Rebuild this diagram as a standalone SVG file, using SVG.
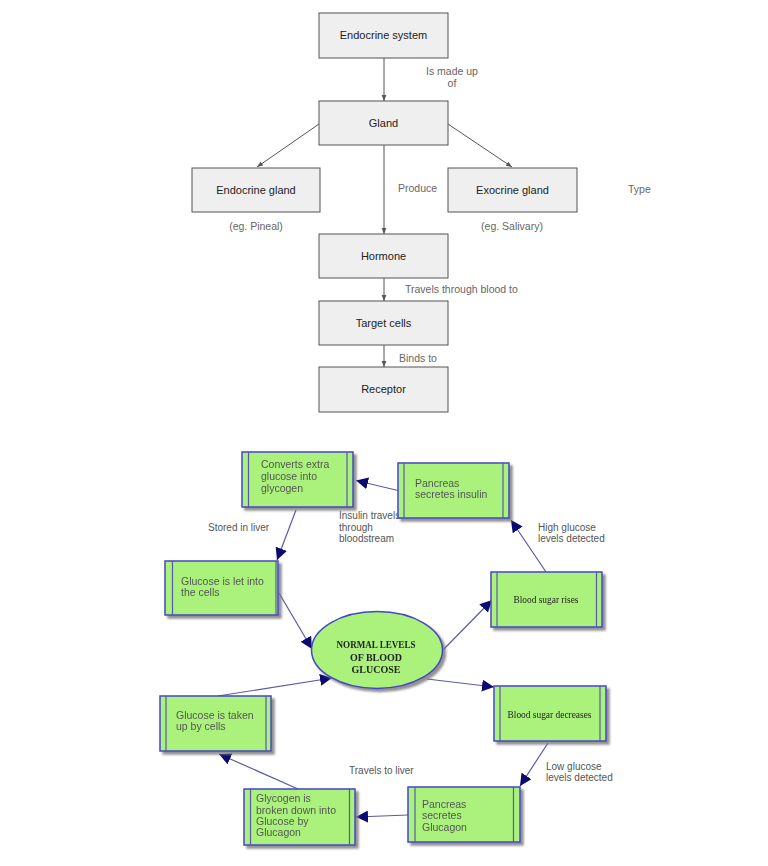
<svg xmlns="http://www.w3.org/2000/svg" width="768" height="866" viewBox="0 0 768 866">
<defs>
<marker id="ag" viewBox="0 0 10 10" refX="10" refY="5" markerWidth="6" markerHeight="6" markerUnits="userSpaceOnUse" orient="auto"><path d="M0,1 L10,5 L0,9 Z" fill="#555"/></marker>
<marker id="an" viewBox="0 0 10 10" refX="10" refY="5" markerWidth="12" markerHeight="12" markerUnits="userSpaceOnUse" orient="auto"><path d="M0,0 L10,5 L0,10 Z" fill="#0a0a70"/></marker>
<filter id="sh" x="-10%" y="-10%" width="130%" height="140%"><feOffset in="SourceAlpha" dx="3" dy="3" result="o"/><feGaussianBlur in="o" stdDeviation="1" result="b"/><feFlood flood-color="#777" flood-opacity="0.8"/><feComposite in2="b" operator="in" result="s"/><feMerge><feMergeNode in="s"/><feMergeNode in="SourceGraphic"/></feMerge></filter>
</defs>
<style>
.tb{fill:#efefef;stroke:#555;stroke-width:1}
.tt{font-family:"Liberation Sans",Arial,sans-serif;font-size:11px;fill:#222;text-anchor:middle}
.tl{font-family:"Liberation Sans",Arial,sans-serif;font-size:10.5px;fill:#666}
.gc{stroke:#555;stroke-width:1;fill:none;marker-end:url(#ag)}
.gb{fill:#aaf27c;stroke:#4545c8;stroke-width:1.5}
.gi{stroke:#5858b0;stroke-width:1.2}
.gt{font-family:"Liberation Sans",Arial,sans-serif;font-size:10.5px;fill:#555}
.st{font-family:"Liberation Serif","Times New Roman",serif;font-size:11px;fill:#222;text-anchor:middle}
.bc{stroke:#5a5aa6;stroke-width:1.2;fill:none;marker-end:url(#an)}
.bl{font-family:"Liberation Sans",Arial,sans-serif;font-size:10px;fill:#555}
</style>
<rect width="768" height="866" fill="#fff"/>

<g id="connectors">
<line class="gc" x1="384" y1="58" x2="384" y2="101"/>
<line class="gc" x1="319" y1="124" x2="257" y2="167"/>
<line class="gc" x1="448" y1="124" x2="512" y2="167"/>
<line class="gc" x1="384" y1="145" x2="384" y2="234"/>
<line class="gc" x1="384" y1="278" x2="384" y2="301"/>
<line class="gc" x1="384" y1="345" x2="384" y2="367"/>

<line class="bc" x1="398" y1="490.5" x2="356" y2="480.5"/>
<line class="bc" x1="296" y1="510" x2="277" y2="560"/>
<line class="bc" x1="546" y1="572" x2="511" y2="520"/>
<line class="bc" x1="443" y1="650" x2="492" y2="600"/>
<line class="bc" x1="279" y1="593" x2="312" y2="649"/>
<line class="bc" x1="218" y1="696" x2="332" y2="678"/>
<line class="bc" x1="427" y1="679" x2="494" y2="687"/>
<line class="bc" x1="548" y1="743" x2="520" y2="786"/>
<line class="bc" x1="408" y1="815" x2="356" y2="817"/>
<line class="bc" x1="298" y1="789" x2="219" y2="754"/>
</g>

<g id="labels">
<text class="tl" x="452" y="75" text-anchor="middle">Is made up</text>
<text class="tl" x="452" y="87" text-anchor="middle">of</text>
<text class="tl" x="398" y="192">Produce</text>
<text class="tl" x="628" y="193">Type</text>
<text class="tl" x="256" y="230" text-anchor="middle">(eg. Pineal)</text>
<text class="tl" x="512" y="230" text-anchor="middle">(eg. Salivary)</text>
<text class="tl" x="405" y="293">Travels through blood to</text>
<text class="tl" x="399" y="362">Binds to</text>

<text class="bl" x="208" y="531">Stored in liver</text>
<text class="bl" x="339" y="519">Insulin travels</text>
<text class="bl" x="339" y="531">through</text>
<text class="bl" x="339" y="542">bloodstream</text>
<text class="bl" x="538" y="531">High glucose</text>
<text class="bl" x="538" y="542">levels detected</text>
<text class="bl" x="546" y="770">Low glucose</text>
<text class="bl" x="546" y="781">levels detected</text>
<text class="bl" x="349" y="774">Travels to liver</text>
</g>

<g id="n-endocrine-system"><rect class="tb" x="319" y="13" width="129" height="45"/><text class="tt" x="383.5" y="39">Endocrine system</text></g>
<g id="n-gland"><rect class="tb" x="319" y="101" width="129" height="44"/><text class="tt" x="383.5" y="127">Gland</text></g>
<g id="n-endocrine-gland"><rect class="tb" x="192" y="168" width="128" height="44"/><text class="tt" x="256" y="194">Endocrine gland</text></g>
<g id="n-exocrine-gland"><rect class="tb" x="448" y="168" width="129" height="44"/><text class="tt" x="512.5" y="194">Exocrine gland</text></g>
<g id="n-hormone"><rect class="tb" x="319" y="234" width="129" height="44"/><text class="tt" x="383.5" y="260">Hormone</text></g>
<g id="n-target-cells"><rect class="tb" x="319" y="301" width="129" height="44"/><text class="tt" x="383.5" y="327">Target cells</text></g>
<g id="n-receptor"><rect class="tb" x="319" y="367" width="129" height="45"/><text class="tt" x="383.5" y="393">Receptor</text></g>

<g id="n-converts" filter="url(#sh)"><rect class="gb" x="242" y="452" width="111" height="55"/><line class="gi" x1="248.5" y1="452" x2="248.5" y2="507"/><line class="gi" x1="347" y1="452" x2="347" y2="507"/>
<text class="gt" x="261" y="468">Converts extra</text><text class="gt" x="261" y="480">glucose into</text><text class="gt" x="261" y="492">glycogen</text></g>
<g id="n-pancreas-insulin" filter="url(#sh)"><rect class="gb" x="398" y="463" width="111" height="55"/><line class="gi" x1="404" y1="463" x2="404" y2="518"/><line class="gi" x1="503" y1="463" x2="503" y2="518"/>
<text class="gt" x="415" y="487">Pancreas</text><text class="gt" x="415" y="498">secretes insulin</text></g>
<g id="n-glucose-let" filter="url(#sh)"><rect class="gb" x="165" y="561" width="113" height="54"/><line class="gi" x1="172.5" y1="561" x2="172.5" y2="615"/><line class="gi" x1="276" y1="561" x2="276" y2="615"/>
<text class="gt" x="181" y="585">Glucose is let into</text><text class="gt" x="181" y="596">the cells</text></g>
<g id="n-rises" filter="url(#sh)"><rect class="gb" x="491" y="572" width="111" height="55"/><line class="gi" x1="497" y1="572" x2="497" y2="627"/><line class="gi" x1="596.5" y1="572" x2="596.5" y2="627"/>
<text class="st" x="546" y="603" textLength="65" lengthAdjust="spacingAndGlyphs">Blood sugar rises</text></g>
<g id="n-normal" filter="url(#sh)"><ellipse cx="377" cy="650" rx="65.5" ry="38.5" fill="#aaf27c" stroke="#4545c8" stroke-width="1.5"/>
<text x="376" y="648" font-family="'Liberation Serif','Times New Roman',serif" font-size="10px" font-weight="bold" fill="#222" text-anchor="middle" textLength="79" lengthAdjust="spacingAndGlyphs">NORMAL LEVELS</text>
<text x="376" y="661" font-family="'Liberation Serif','Times New Roman',serif" font-size="10px" font-weight="bold" fill="#222" text-anchor="middle">OF BLOOD</text>
<text x="376" y="673" font-family="'Liberation Serif','Times New Roman',serif" font-size="10px" font-weight="bold" fill="#222" text-anchor="middle">GLUCOSE</text></g>
<g id="n-decreases" filter="url(#sh)"><rect class="gb" x="494" y="686" width="112" height="55"/><line class="gi" x1="500" y1="686" x2="500" y2="741"/><line class="gi" x1="600" y1="686" x2="600" y2="741"/>
<text class="st" x="549.5" y="718" textLength="84" lengthAdjust="spacingAndGlyphs">Blood sugar decreases</text></g>
<g id="n-taken-up" filter="url(#sh)"><rect class="gb" x="160" y="696" width="111" height="55"/><line class="gi" x1="166" y1="696" x2="166" y2="751"/><line class="gi" x1="266" y1="696" x2="266" y2="751"/>
<text class="gt" x="176" y="719">Glucose is taken</text><text class="gt" x="176" y="730">up by cells</text></g>
<g id="n-glycogen" filter="url(#sh)"><rect class="gb" x="244" y="789" width="111" height="56"/><line class="gi" x1="250.5" y1="789" x2="250.5" y2="845"/><line class="gi" x1="349.5" y1="789" x2="349.5" y2="845"/>
<text class="gt" x="256" y="802">Glycogen is</text><text class="gt" x="256" y="814">broken down into</text><text class="gt" x="256" y="825">Glucose by</text><text class="gt" x="256" y="836">Glucagon</text></g>
<g id="n-pancreas-glucagon" filter="url(#sh)"><rect class="gb" x="408" y="787" width="112" height="55"/><line class="gi" x1="415" y1="787" x2="415" y2="842"/><line class="gi" x1="513.5" y1="787" x2="513.5" y2="842"/>
<text class="gt" x="422" y="808">Pancreas</text><text class="gt" x="422" y="819">secretes</text><text class="gt" x="422" y="831">Glucagon</text></g>
</svg>
